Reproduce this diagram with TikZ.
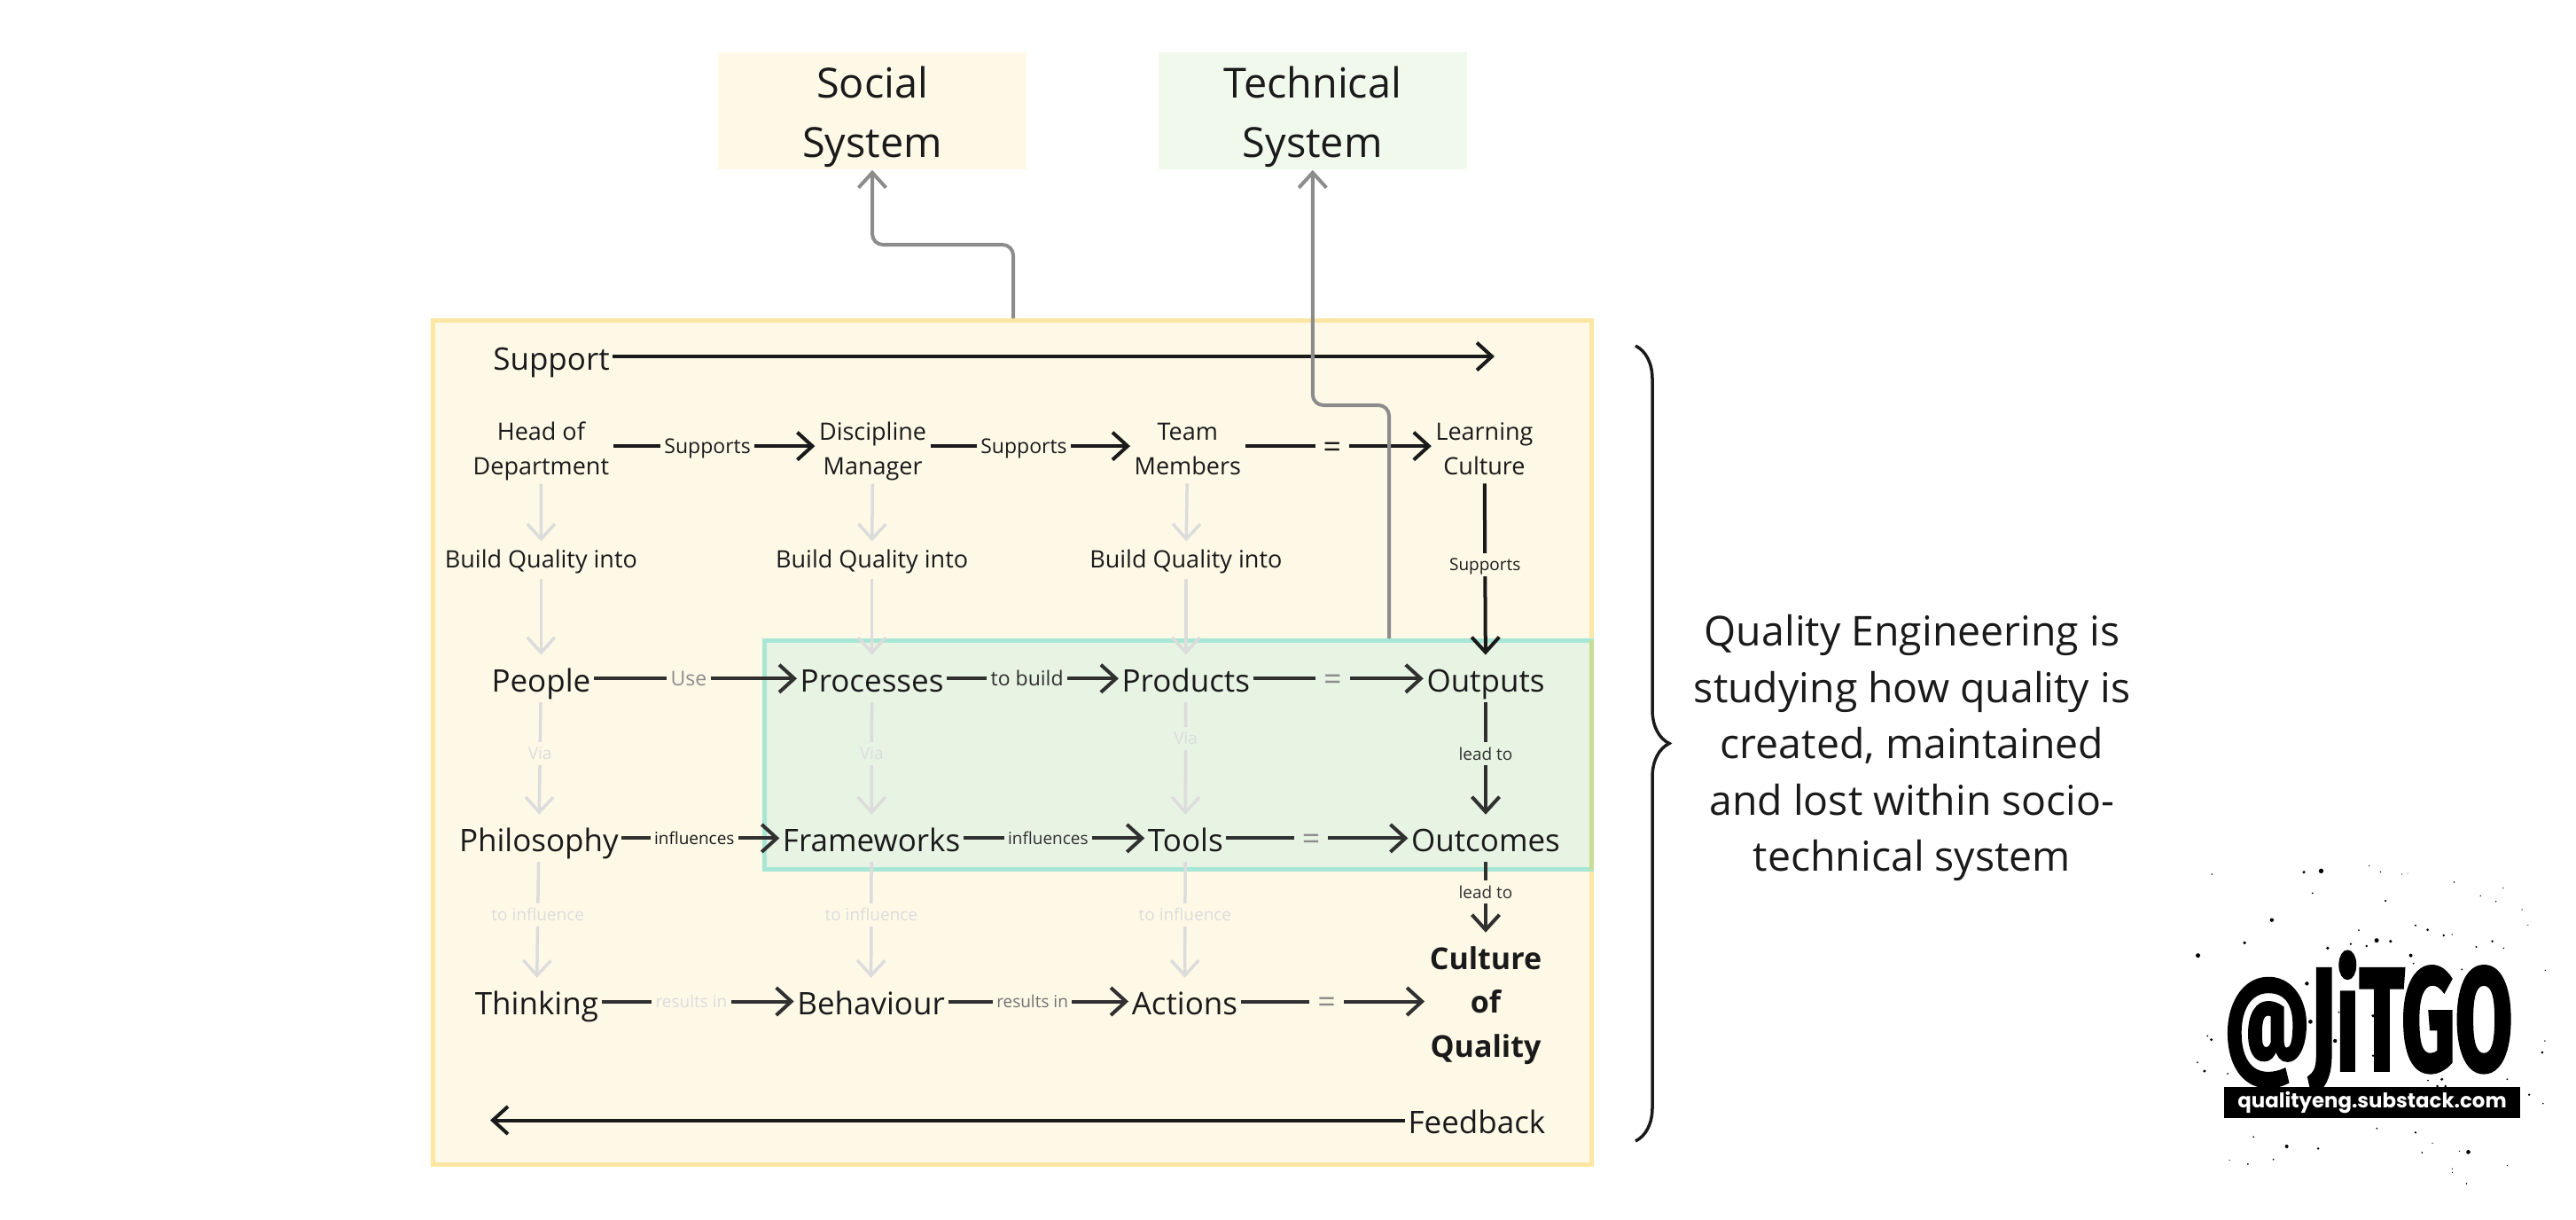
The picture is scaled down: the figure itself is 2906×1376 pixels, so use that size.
\documentclass[tikz,border=0pt]{standalone}
\usepackage{graphicx}
\usepackage{fontspec}
\setmainfont{Open Sans}
\newfontfamily\logofont{Fira Sans}[BoldFeatures={FakeBold=2.5}]
\newfontfamily\barfont{Poppins}
\usetikzlibrary{positioning,arrows.meta,decorations.pathreplacing}
\definecolor{cream}{HTML}{FEF9E7}
\definecolor{butter}{HTML}{FBE7A3}
\definecolor{leaf}{HTML}{E7F3E3}
\definecolor{mint}{HTML}{A8E6D6}
\definecolor{moss}{HTML}{C6DF95}
\definecolor{pale}{HTML}{F1F8EC}
\definecolor{ink}{HTML}{1A1A1A}
\definecolor{shaft}{HTML}{303030}
\definecolor{fade}{HTML}{DCDCDC}
\definecolor{wire}{HTML}{8C8C8C}
\newcommand{\twolines}[2]{\rule{0pt}{.32cm}#1\\#2\rule[-.06cm]{0pt}{.06cm}}
\tikzset{
    word/.style={font=\fontsize{9.95}{11}\selectfont,text=ink,inner xsep=.03cm,inner ysep=0pt,text height=.41cm,text depth=.11cm},
    role/.style={font=\fontsize{7.68}{11.1}\selectfont,text=ink,align=center,inner xsep=.04cm,inner ysep=.03cm},
    build/.style={font=\fontsize{7.68}{11}\selectfont,text=ink,inner sep=0pt,text height=.295cm,text depth=.115cm},
    system/.style={font=\fontsize{13.3}{19.06}\selectfont,text=ink,align=center,minimum width=3.48cm,minimum height=1.32cm,inner sep=0pt},
    zone/.style={draw,line width=.05cm,inner sep=0pt,outer sep=0pt},
    lab/.style={font=\fontsize{6.54}{8}\selectfont,fill=cream,pos=.467,text=ink,inner xsep=.045cm,inner ysep=0pt,text height=.22cm,text depth=.05cm},
    sub/.style={font=\fontsize{5.4}{7}\selectfont,fill=cream,pos=.467,text=shaft,inner xsep=.045cm,inner ysep=0pt,text height=.2cm,text depth=.06cm},
    eq/.style={font=\fontsize{10.2}{12}\selectfont,fill=cream,pos=.467,text=ink,inner xsep=.09cm,inner ysep=0pt,text height=.28cm,text depth=.02cm},
    flow/.style={draw=shaft,line width=.04cm},
    faint/.style={draw=fade,line width=.035cm},
    link/.style={draw=wire,line width=.04cm,rounded corners=.12cm}
}
\begin{document}
\begin{tikzpicture}[x=.01cm,y=-.01cm,on grid,->,>={Straight Barb[length=.17cm,width=.31cm]}]
    \useasboundingbox (0,0) rectangle (2906,1376);
    \node (socialzone) at (1142,837.5) [zone,draw=butter,fill=cream,minimum width=13.06cm,minimum height=9.52cm] {};
    \node (techzone) at (1329,851.5) [zone,draw=mint,fill=leaf,minimum width=9.32cm,minimum height=2.58cm] {};
    \draw [-,draw=moss,line width=.05cm] (techzone.north east) -- (techzone.south east);
    \node (social) at (984,125) [system,fill=cream] {\rule{0pt}{.5cm}Social\\System};
    \node (technical) [system,fill=pale,right=4.965cm of social] {\rule{0pt}{.5cm}Technical\\System};
    \node (culture) at (1676,1129.5) [inner ysep=.06cm,inner xsep=.05cm,align=center,text=ink,font=\fontsize{9.67}{14.08}\selectfont\bfseries] {\rule{0pt}{.35cm}Culture\\of\\Quality};
    \node (actions) [word,left=3.394cm of culture] {Actions} edge [flow] node [eq,text=wire] {=} (culture);
    \node (behaviour) [word,left=3.536cm of actions] {Behaviour} edge [flow] node [sub,text=wire!80!black] {results in} (actions);
    \node (thinking) [word,left=3.77cm of behaviour] {Thinking} edge [flow] node [sub,text=fade] {results in} (behaviour);
    \node (outcomes) [word,above=1.84cm of culture] {Outcomes} edge [flow] node [sub,pos=.43] {lead to} (culture);
    \node (tools) [word,left=3.385cm of outcomes] {Tools} edge [flow] node [eq,fill=leaf,text=wire] {=} (outcomes) edge [faint] node [sub,pos=.455,text=fade] {to influence} (actions);
    \node (frameworks) [word,left=3.54cm of tools] {Frameworks} edge [flow] node [sub,fill=leaf] {influences} (tools) edge [faint] node [sub,pos=.455,text=fade] {to influence} (behaviour);
    \node (philosophy) [word,left=3.75cm of frameworks] {Philosophy} edge [flow] node [sub,pos=.46,text=ink] {influences} (frameworks) edge [faint] node [sub,pos=.455,text=fade] {to influence} (thinking);
    \node (outputs) [word,above=1.8cm of outcomes] {Outputs} edge [flow] node [sub,fill=leaf,pos=.458] {lead to} (outcomes);
    \node (products) [word,left=3.38cm of outputs] {Products} edge [flow] node [eq,fill=leaf,text=wire] {=} (outputs) edge [faint] node [sub,fill=leaf,pos=.32,text=fade] {Via} (tools);
    \node (processes) [word,left=3.54cm of products] {Processes} edge [flow] node [lab,fill=leaf,text=shaft] {to build} (products) edge [faint] node [sub,fill=leaf,pos=.455,text=fade] {Via} (frameworks);
    \node (people) [word,left=3.73cm of processes] {People} edge [flow] node [lab,text=wire] {Use} (processes) edge [faint] node [sub,pos=.455,text=fade] {Via} (philosophy);
    \node (learning) [role,above=2.62cm of outputs,xshift=-.015cm] {\twolines{Learning}{Culture}} edge [flow,draw=ink] node [sub,pos=.472,text=ink] {Supports} (outputs);
    \node (buildc) [build,above=1.335cm of products] {Build Quality into} edge [faint] (products);
    \node (buildb) [build,above=1.335cm of processes] {Build Quality into} edge [faint] (processes);
    \node (builda) [build,above=1.335cm of people] {Build Quality into} edge [faint] (people);
    \node (team) [role,left=3.345cm of learning] {\twolines{Team}{Members}} edge [flow,draw=ink] node [eq] {=} (learning) edge [faint] (buildc);
    \node (discipline) [role,left=3.55cm of team] {\twolines{Discipline}{Manager}} edge [flow,draw=ink] node [lab] {Supports} (team) edge [faint] (buildb);
    \node (head) [role,left=3.74cm of discipline] {\twolines{Head of}{Department}} edge [flow,draw=ink] node [lab] {Supports} (discipline) edge [faint] (builda);
    \coordinate (supportend) at (1686,402);
    \node (support) at (622,402) [word] {Support} edge [flow,draw=ink] (supportend);
    \coordinate (feedbackend) at (553,1263.5);
    \node (feedback) at (1666,1263.5) [word] {Feedback} edge [flow,draw=ink] (feedbackend);
    \coordinate (socialout) at (1143,359);
    \coordinate (techout) at (1567,720);
    \draw [link] (socialout) -- ++(0,-83) -| (social.south);
    \draw [link] (techout) -- ++(0,-263) -| (technical.south);
    \coordinate (bracetop) at (1845,390);
    \coordinate (bracebottom) at (1845,1287);
    \draw [-,draw=ink,line width=.035cm,decorate,decoration={brace,amplitude=.38cm}] (bracetop) -- (bracebottom);
    \node (claim) at (2157,843.5) [align=center,text=ink,font=\fontsize{13.2}{18.07}\selectfont] {Quality Engineering is\\studying how quality is\\created, maintained\\and lost within socio-\\technical system};
    \foreach \dotx/\doty/\dotr in {533/97/16,475/101/10,165/108/5,367/263/13,275/340/11,118/383/15,733/100/5,981/135/5,750/198/7,504/172/6,892/296/9,851/281/7,946/315/8,974/312/5,1110/335/8,1056/354/7,720/332/15,767/335/11,686/351/8,633/344/8,555/358/11,660/297/6,835/383/12,844/410/6,485/478/13,456/558/10,497/607/14,438/580/6,446/645/8,580/672/13,163/668/10,150/655/6,140/774/10,116/745/6,218/783/6,1234/854/8,1281/884/5,1278/711/9,1288/433/4,1287/672/5,968/587/13,836/657/15,828/587/8,708/587/11,593/575/6,607/607/8,708/722/8,864/732/8,1017/702/9,940/802/10,925/825/9,952/825/9,893/806/6,1160/802/6,721/968/6,851/982/8,305/997/6,417/1029/12,523/1036/8,1029/1048/14,999/1045/4,873/1050/6,908/1018/4,372/1073/6,286/1089/6,224/1076/4,975/1105/4,975/1117/4,1023/1155/5,1160/1094/4,1007/430/6,1148/358/5,1122/200/5,1070/181/5,1146/155/4,1210/228/4,1230/280/4,805/108/4,825/105/3,695/80/4}
        \fill [black] ({2440+\dotx/2.987},{950+\doty/3}) circle ({\dotr/6});
    \node (logo) at (2672,1154) [text=black,font=\logofont\bfseries\fontsize{26.7}{30}\selectfont] {\raisebox{.1cm}{\scalebox{1}[1.4]{@}}\scalebox{1}[1.75]{JiTGO}};
    \node (logobar) at (2676,1243) [fill=black,text=white,minimum width=3.345cm,minimum height=.35cm,inner sep=0pt,font=\barfont\bfseries\fontsize{6.5}{8}\selectfont] {qualityeng.substack.com};
\end{tikzpicture}
\end{document}
